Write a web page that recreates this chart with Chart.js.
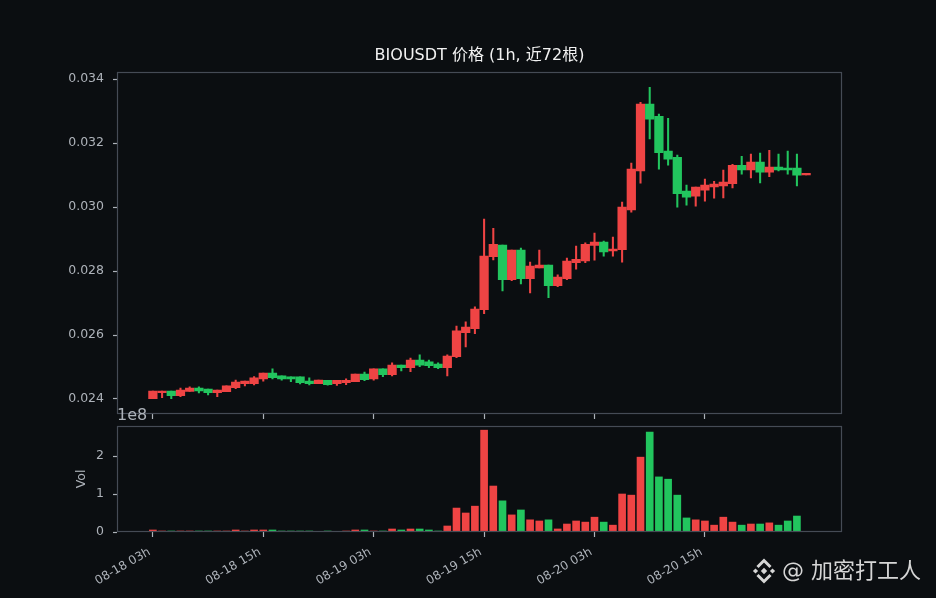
<!DOCTYPE html>
<html><head><meta charset="utf-8">
<script src="https://cdn.jsdelivr.net/npm/chart.js@4.4.1/dist/chart.umd.min.js"></script>
<style>
html,body{margin:0;padding:0;background:#0b0e11;overflow:hidden}
#wrap{position:relative;width:936px;height:598px}
canvas{position:absolute;left:0;top:0}
</style></head><body>
<div id="wrap"><canvas id="price" width="936" height="598"></canvas><canvas id="vol" width="936" height="598"></canvas></div>
<script>
const chartTitle = 'BIOUSDT 价格 (1h, 近72根)';
const tickLabels = ['08-18 03h','08-18 15h','08-19 03h','08-19 15h','08-20 03h','08-20 15h'];
const tickHours = [0,12,24,36,48,60];
const priceTicks = [0.024,0.026,0.028,0.030,0.032,0.034];
const volTicks = [0,1e8,2e8];

const opens = [0.02401,0.02420,0.02425,0.02410,0.02424,0.02434,0.02431,0.02420,0.02423,0.02435,
0.02448,0.02448,0.02463,0.02481,0.02472,0.02469,0.02469,0.02456,0.02448,0.02458,
0.02448,0.02451,0.02454,0.02478,0.02463,0.02494,0.02476,0.02506,0.02498,0.02522,
0.02516,0.02509,0.02498,0.02532,0.02607,0.02620,0.02679,0.02845,0.02881,0.02773,
0.02866,0.02776,0.02810,0.02819,0.02754,0.02776,0.02826,0.02832,0.02880,0.02891,
0.02863,0.02867,0.02991,0.03113,0.03322,0.03284,0.03175,0.03156,0.03050,0.03034,
0.03053,0.03063,0.03066,0.03073,0.03131,0.03116,0.03141,0.03109,0.03125,0.03122,
0.03122,0.03101];
const highs = [0.02425,0.02425,0.02425,0.02434,0.02438,0.02438,0.02431,0.02428,0.02441,0.02459,
0.02456,0.02470,0.02481,0.02494,0.02472,0.02469,0.02469,0.02466,0.02459,0.02458,
0.02458,0.02463,0.02478,0.02484,0.02494,0.02494,0.02513,0.02506,0.02528,0.02538,
0.02522,0.02513,0.02538,0.02628,0.02641,0.02688,0.02963,0.02934,0.02881,0.02866,
0.02872,0.02828,0.02866,0.02819,0.02788,0.02841,0.02878,0.02888,0.02919,0.02894,
0.02906,0.03016,0.03138,0.03328,0.03375,0.03291,0.03278,0.03163,0.03069,0.03063,
0.03088,0.03081,0.03116,0.03134,0.03159,0.03166,0.03169,0.03178,0.03166,0.03175,
0.03166,0.03106];
const lows = [0.02401,0.02404,0.02401,0.02407,0.02424,0.02419,0.02413,0.02407,0.02423,0.02432,
0.02441,0.02444,0.02456,0.02463,0.02459,0.02454,0.02447,0.02444,0.02448,0.02443,
0.02442,0.02445,0.02454,0.02457,0.02459,0.02470,0.02472,0.02488,0.02485,0.02501,
0.02498,0.02495,0.02472,0.02529,0.02563,0.02604,0.02667,0.02835,0.02738,0.02770,
0.02760,0.02732,0.02810,0.02717,0.02751,0.02773,0.02806,0.02826,0.02834,0.02847,
0.02847,0.02828,0.02984,0.03075,0.03213,0.03119,0.03131,0.03000,0.03006,0.03003,
0.03019,0.03028,0.03029,0.03060,0.03103,0.03091,0.03076,0.03095,0.03113,0.03103,
0.03066,0.03101];
const closes = [0.02425,0.02425,0.02410,0.02428,0.02434,0.02425,0.02420,0.02428,0.02441,0.02453,
0.02456,0.02466,0.02481,0.02467,0.02463,0.02463,0.02451,0.02448,0.02459,0.02445,
0.02458,0.02458,0.02478,0.02460,0.02494,0.02476,0.02506,0.02498,0.02522,0.02506,
0.02504,0.02498,0.02534,0.02613,0.02625,0.02681,0.02847,0.02884,0.02773,0.02866,
0.02776,0.02816,0.02819,0.02754,0.02781,0.02831,0.02837,0.02884,0.02891,0.02860,
0.02869,0.03000,0.03119,0.03322,0.03275,0.03170,0.03150,0.03042,0.03031,0.03063,
0.03069,0.03072,0.03078,0.03131,0.03116,0.03141,0.03109,0.03125,0.03116,0.03116,
0.03100,0.03106];
const volumes = [0.053e8,0.026e8,0.026e8,0.026e8,0.026e8,0.026e8,0.026e8,0.026e8,0.026e8,0.053e8,
0.026e8,0.053e8,0.053e8,0.053e8,0.026e8,0.026e8,0.026e8,0.026e8,0.005e8,0.026e8,
0.005e8,0.026e8,0.053e8,0.053e8,0.026e8,0.026e8,0.079e8,0.053e8,0.079e8,0.079e8,
0.053e8,0.026e8,0.158e8,0.63e8,0.50e8,0.68e8,2.68e8,1.21e8,0.82e8,0.45e8,
0.58e8,0.32e8,0.29e8,0.32e8,0.08e8,0.21e8,0.29e8,0.26e8,0.39e8,0.26e8,
0.18e8,1.00e8,0.97e8,1.97e8,2.63e8,1.45e8,1.39e8,0.97e8,0.37e8,0.32e8,
0.29e8,0.18e8,0.39e8,0.26e8,0.18e8,0.21e8,0.21e8,0.24e8,0.18e8,0.29e8,
0.42e8,0.01e8];

const UP = '#ef4444', DOWN = '#22c55e';
const FRAME = '#454b55', TXT = '#aeb3ba', TICK = '#aeb3ba';
const FONT = "'DejaVu Sans', 'Noto Sans CJK SC', sans-serif";
Chart.defaults.font.family = FONT;
Chart.defaults.color = TXT;

const colors = opens.map((o,i)=> closes[i] >= o ? UP : DOWN);
const bodyData = opens.map((o,i)=>({x:i, y:[o, closes[i]]}));
const wickData = opens.map((o,i)=>({x:i, y:[lows[i], highs[i]]}));
const volData = volumes.map((v,i)=>({x:i, y:v}));

const frame = {
  id:'frame',
  afterDatasetsDraw(chart){
    const a = chart.chartArea, c = chart.ctx;
    c.save(); c.strokeStyle = FRAME; c.lineWidth = 1.2;
    c.strokeRect(Math.round(a.left)+0.5, Math.round(a.top)+0.5, Math.round(a.right-a.left)-1, Math.round(a.bottom-a.top)-1);
    c.restore();
  }
};

function xScale(showLabels, h){
  return {
    type:'linear', min:-3.9, max:74.9, offset:false,
    afterBuildTicks(s){ s.ticks = tickHours.map(v=>({value:v})); },
    afterFit(s){ s.height = h; },
    border:{display:false},
    grid:{offset:false, drawOnChartArea:false, drawTicks:true, tickLength:5, tickColor:TICK, tickWidth:1.2},
    ticks: showLabels ? {
      display:true, minRotation:30, maxRotation:30, autoSkip:false, padding:6,
      font:{size:12}, color:TXT,
      callback(v){ const k = tickHours.indexOf(v); return k>=0 ? tickLabels[k] + ' ' : ''; }
    } : {display:false}
  };
}

new Chart(document.getElementById('price'), {
  type:'bar',
  data:{ datasets:[
    {label:'wick', data:wickData, backgroundColor:colors, barThickness:1.4, grouped:false, order:2},
    {label:'body', data:bodyData, backgroundColor:colors, barThickness:8.6, grouped:false, minBarLength:1.5, order:1}
  ]},
  options:{
    responsive:false, animation:false, devicePixelRatio:1,
    layout:{padding:{left:0, right:94, top:46, bottom:174}},
    plugins:{
      legend:{display:false}, tooltip:{enabled:false},
      title:{display:true, text:chartTitle, color:'#f2f2f2', fullSize:false,
        font:{size:16, weight:'normal'}, padding:{top:0,bottom:7}}
    },
    scales:{
      x: xScale(false, 10),
      y:{
        type:'linear', min:0.02353, max:0.03422,
        afterBuildTicks(s){ s.ticks = priceTicks.map(v=>({value:v})); },
        afterFit(s){ s.width = 117; },
        border:{display:false},
        grid:{drawOnChartArea:false, drawTicks:true, tickLength:4, tickColor:TICK, tickWidth:1.2},
        ticks:{padding:9, font:{size:12.5}, color:TXT, callback(v){ return v.toFixed(3); }}
      }
    }
  },
  plugins:[frame]
});

const extras = {
  id:'extras',
  afterDraw(chart){
    const c = chart.ctx;
    c.save();
    c.fillStyle = TXT;
    c.font = "16px " + FONT;
    c.textAlign = 'left'; c.textBaseline = 'alphabetic';
    c.fillText('1e8', 117, 420);
    c.translate(82, 479); c.rotate(-Math.PI/2);
    c.font = "12.5px " + FONT; c.textAlign='center'; c.textBaseline='middle';
    c.fillText('Vol', 0, 0);
    c.restore();
    // watermark
    c.save();
    c.fillStyle = '#d6d6d6'; c.strokeStyle = '#d6d6d6';
    const cx = 764, cy = 571;
    function dia(x,y,r){ c.beginPath(); c.moveTo(x,y-r); c.lineTo(x+r,y); c.lineTo(x,y+r); c.lineTo(x-r,y); c.closePath(); c.fill(); }
    dia(cx,cy,3.2); dia(cx-8.5,cy,2.6); dia(cx+8.5,cy,2.6);
    c.lineWidth = 3; c.lineJoin='miter';
    c.beginPath(); c.moveTo(cx-6.5,cy-4); c.lineTo(cx,cy-10.5); c.lineTo(cx+6.5,cy-4); c.stroke();
    c.beginPath(); c.moveTo(cx-6.5,cy+4); c.lineTo(cx,cy+10.5); c.lineTo(cx+6.5,cy+4); c.stroke();
    c.font = "22px " + FONT; c.textAlign='left'; c.textBaseline='middle';
    c.fillText('@ 加密打工人', 782, 572);
    c.restore();
  }
};

new Chart(document.getElementById('vol'), {
  type:'bar',
  data:{ datasets:[
    {label:'Vol', data:volData, backgroundColor:colors, barThickness:7, grouped:false}
  ]},
  options:{
    responsive:false, animation:false, devicePixelRatio:1,
    layout:{padding:{left:0, right:94, top:426, bottom:0}},
    plugins:{legend:{display:false}, tooltip:{enabled:false}},
    scales:{
      x: xScale(true, 66),
      y:{
        type:'linear', min:0, max:2.79e8,
        afterBuildTicks(s){ s.ticks = volTicks.map(v=>({value:v})); },
        afterFit(s){ s.width = 117; },
        border:{display:false},
        grid:{drawOnChartArea:false, drawTicks:true, tickLength:4, tickColor:TICK, tickWidth:1.2},
        ticks:{padding:9, font:{size:12.5}, color:TXT, callback(v){ return String(Math.round(v/1e8)); }}
      }
    }
  },
  plugins:[frame, extras]
});
</script>
</body></html>
